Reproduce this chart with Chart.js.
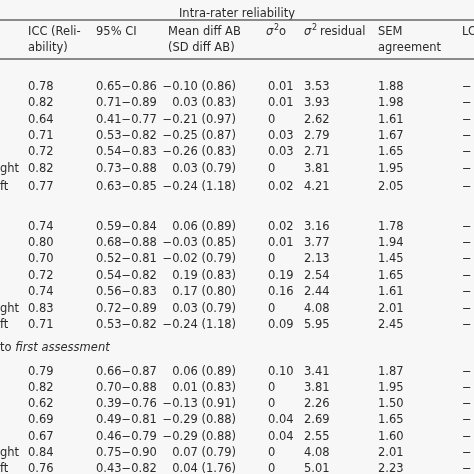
<!DOCTYPE html>
<html><head><meta charset="utf-8">
<script src="https://cdn.jsdelivr.net/npm/chart.js@4"></script>
<style>html,body{margin:0;padding:0;background:#f7f7f7}#c{display:block}</style>
</head><body><canvas id="c" width="474" height="474"></canvas>
<script>
const icc = ["0.78","0.82","0.64","0.71","0.72","0.82","0.77","0.74","0.80","0.70","0.72","0.74","0.83","0.71","0.79","0.82","0.62","0.69","0.67","0.84","0.76"];
const ci = ["0.65−0.86","0.71−0.89","0.41−0.77","0.53−0.82","0.54−0.83","0.73−0.88","0.63−0.85","0.59−0.84","0.68−0.88","0.52−0.81","0.54−0.82","0.56−0.83","0.72−0.89","0.53−0.82","0.66−0.87","0.70−0.88","0.39−0.76","0.49−0.81","0.46−0.79","0.75−0.90","0.43−0.82"];
const meanDiff = ["−0.10 (0.86)","0.03 (0.83)","−0.21 (0.97)","−0.25 (0.87)","−0.26 (0.83)","0.03 (0.79)","−0.24 (1.18)","0.06 (0.89)","−0.03 (0.85)","−0.02 (0.79)","0.19 (0.83)","0.17 (0.80)","0.03 (0.79)","−0.24 (1.18)","0.06 (0.89)","0.01 (0.83)","−0.13 (0.91)","−0.29 (0.88)","−0.29 (0.88)","0.07 (0.79)","0.04 (1.76)"];
const sigmaO = ["0.01","0.01","0","0.03","0.03","0","0.02","0.02","0.01","0","0.19","0.16","0","0.09","0.10","0","0","0.04","0.04","0","0"];
const sigmaRes = ["3.53","3.93","2.62","2.79","2.71","3.81","4.21","3.16","3.77","2.13","2.54","2.44","4.08","5.95","3.41","3.81","2.26","2.69","2.55","4.08","5.01"];
const sem = ["1.88","1.98","1.61","1.67","1.65","1.95","2.05","1.78","1.94","1.45","1.65","1.61","2.01","2.45","1.87","1.95","1.50","1.65","1.60","2.01","2.23"];
const rowLabels = ["","","","","","ght","ft","","","","","","ght","ft","","","","","","ght","ft"];
const rowY = [87,103,120,136,152,169,187,227,243,259,276,292,309,325,372,388,404,420,437,453,469];

const F = '11.5px "DejaVu Sans"';
const tablePlugin = {
  id:'table',
  afterDraw(ch){
    const c=ch.ctx, sx=ch.scales.x, sy=ch.scales.y;
    const X=v=>sx.getPixelForValue(v), Y=v=>sy.getPixelForValue(v);
    c.save();
    c.fillStyle='#2b2b2b'; c.font=F; c.textBaseline='middle';
    c.textAlign='center'; c.fillText('Intra-rater reliability',X(237),Y(14));
    c.strokeStyle='#666'; c.lineWidth=1.5;
    [20,59].forEach(y=>{c.beginPath();c.moveTo(X(0),Y(y));c.lineTo(X(474),Y(y));c.stroke();});
    c.textAlign='left';
    const H=[[28,'ICC (Reli-','ability)'],[96,'95% CI',''],[168,'Mean diff AB','(SD diff AB)'],[378,'SEM','agreement'],[462,'LO','']];
    H.forEach(h=>{c.fillText(h[1],X(h[0]),Y(32));if(h[2])c.fillText(h[2],X(h[0]),Y(48));});
    c.font='italic '+F; c.fillText('σ',X(266),Y(32)); c.fillText('σ',X(304),Y(32));
    c.font='8px "DejaVu Sans"'; c.fillText('2',X(274),Y(28)); c.fillText('2',X(312),Y(28));
    c.font=F; c.fillText('o',X(279),Y(32)); c.fillText('residual',X(320),Y(32));
    c.fillText('to ',X(0),Y(348)); const w=c.measureText('to ').width;
    c.font='italic '+F; c.fillText('first assessment',X(0)+w,Y(348)); c.font=F;
    rowY.forEach((y,i)=>{
      const py=Y(y);
      c.textAlign='left';
      c.fillText(rowLabels[i],X(0),py);
      c.fillText(icc[i],X(28),py);
      c.fillText(ci[i],X(96),py);
      c.fillText(sigmaO[i],X(268),py);
      c.fillText(sigmaRes[i],X(304),py);
      c.fillText(sem[i],X(378),py);
      c.fillText('−',X(462),py);
      c.textAlign='right';
      c.fillText(meanDiff[i],X(236),py);
    });
    c.restore();
  }
};
new Chart(document.getElementById('c'),{
  type:'scatter',
  data:{datasets:[{data:[]}]},
  options:{responsive:false,animation:false,layout:{padding:0},
    plugins:{legend:{display:false},tooltip:{enabled:false}},
    scales:{x:{type:'linear',min:0,max:474,display:false},y:{type:'linear',min:0,max:474,reverse:true,display:false}}},
  plugins:[tablePlugin]
});
</script></body></html>
